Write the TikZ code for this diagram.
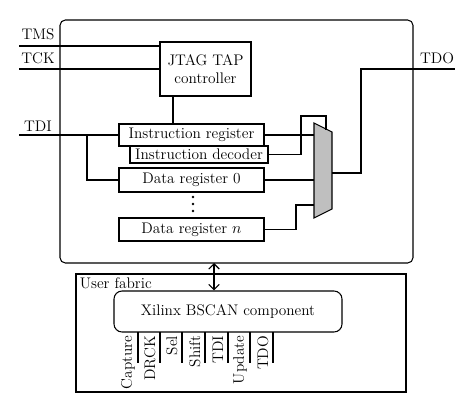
\documentclass[tikz,border=0pt]{standalone}
\usetikzlibrary{arrows.meta}
\begin{document}
\begin{tikzpicture}[x=0.75pt,y=-0.75pt,line width=0.8pt,
    font=\fontsize{11.5}{13}\selectfont,
    reg/.style={draw,inner sep=0pt,minimum width=108.75pt},
    sig/.style={rotate=90,anchor=east,inner sep=1pt}]
  \useasboundingbox (0,0) rectangle (474,410);
  % JTAG block
  \draw[rounded corners=4pt] (60,20) rectangle (413,263);
  \node[draw,align=center,minimum width=68.25pt,minimum height=40.5pt,
    inner sep=0pt] (jtag) at (205.5,69) {JTAG TAP\\controller};
  \node[reg,minimum height=16.5pt] (ir) at (191.5,135) {Instruction register};
  \node[draw,inner sep=0pt,minimum width=103.5pt,minimum height=12.75pt]
    (id) at (199,154.5) {Instruction decoder};
  \node[reg,minimum height=18pt] (dr0) at (191.5,180) {Data register 0};
  \fill (193,197) circle (1pt) (193,204) circle (1pt) (193,211) circle (1pt);
  \node[reg,minimum height=17.25pt] (drn) at (191.5,229.5) {Data register $n$};
  \draw[fill=black!25] (314,123) coordinate (mtl) -- (332,132) coordinate (mtr)
    -- (332,209) coordinate (mbr) -- (314,218) coordinate (mbl) -- cycle;
  \coordinate (mout) at (332,173);
  % ports
  \node (tms) at (38,34) {TMS};
  \node (tck) at (38,58) {TCK};
  \node (tdi) at (38,126) {TDI};
  \node (tdo) at (437,58) {TDO};
  \coordinate (tmsin) at (19,46);
  \coordinate (tckin) at (19,69);
  \coordinate (tdiin) at (19,135);
  \coordinate (tdoout) at (455,69);
  \coordinate (split) at (87,135);
  \coordinate (jtagout) at (173,96);
  \begin{scope}[-]
    \draw (tmsin) -- (tmsin -| jtag.west);
    \draw (tckin) -- (jtag.west);
    \draw (jtagout) -- (jtagout |- ir.north);
    \draw (tdiin) -- (ir.west);
    \draw (split) |- (dr0.west);
    \draw (ir.east) -- (ir.east -| mtl);
    \draw (id.east) -| (301,116) -| (326,129.5);
    \draw (dr0.east) -- (dr0.east -| mtl);
    \draw (drn.east) -| (296,205) -- (314,205);
    \draw (mout) -| (361,69) -- (tdoout);
  \end{scope}
  % user fabric
  \draw (76,274) rectangle (406,392);
  \node[anchor=north west,inner sep=1pt] (fabric) at (78,276) {User fabric};
  \node[draw,rounded corners=6pt,minimum width=171pt,minimum height=30.75pt,
    inner sep=0pt] (bscan) at (228,311.5) {Xilinx BSCAN component};
  \draw[{Straight Barb[length=4pt]}-{Straight Barb[length=4pt]}]
    (214,263) -- (bscan.north -| 214,0);
  \draw (138,332) -- (138,363);
  \draw (160,332) -- (160,363);
  \draw (182,332) -- (182,363);
  \draw (205,332) -- (205,363);
  \draw (228,332) -- (228,363);
  \draw (250,332) -- (250,363);
  \draw (273,332) -- (273,363);
  \node[sig] (capture) at (128,334) {Capture};
  \node[sig] (drck) at (150,334) {DRCK};
  \node[sig] (sel) at (172,334) {Sel};
  \node[sig] (shift) at (195,334) {Shift};
  \node[sig] (tdis) at (218,334) {TDI};
  \node[sig] (update) at (240,334) {Update};
  \node[sig] (tdos) at (263,334) {TDO};
\end{tikzpicture}
\end{document}
